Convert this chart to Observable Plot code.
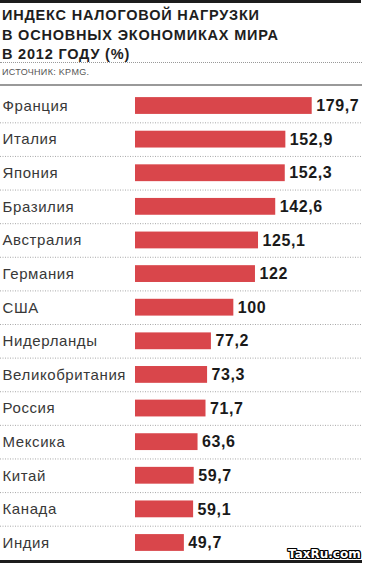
<!DOCTYPE html>
<html>
<head>
<meta charset="utf-8">
<script src="https://cdn.jsdelivr.net/npm/d3@7"></script>
<script src="https://cdn.jsdelivr.net/npm/@observablehq/plot@0.6"></script>
<style>
  html, body { margin: 0; padding: 0; background: #fff; overflow: hidden; }
  body { width: 368px; height: 565px; position: relative;
         font-family: "Liberation Sans", Arial, Helvetica, sans-serif; }
  #header { position: relative; height: 88px; }
  .topline { position: absolute; left: 0; top: 0; width: 361px; height: 3px; background: #1c1c1c; }
  .title { position: absolute; left: 2px; top: 6.3px; font-size: 14.5px; line-height: 19.3px;
           font-weight: bold; color: #1e1e1e; letter-spacing: 0.8px; white-space: nowrap; }
  .dots { position: absolute; left: 0; top: 62px; width: 362px; border-top: 1px dotted #999; }
  .source { position: absolute; left: 2px; top: 67.4px; font-size: 9px; line-height: 11px;
            color: #555; letter-spacing: 0.3px; }
  .grayline { position: absolute; left: 0; top: 84px; width: 362px; height: 2px; background: #999; }
  #chart { position: absolute; left: 0; top: 88px; }
  .bottomline { position: absolute; left: 0; top: 560px; width: 362px; height: 3px; background: #1c1c1c; }
  .wm { position: absolute; left: 288px; top: 547px; font-family: "DejaVu Sans", sans-serif;
        font-weight: bold; font-size: 12px; line-height: 14px; color: #fff;
        text-shadow: -1px -1px 0 #000, 1px -1px 0 #000, -1px 1px 0 #000, 1px 1px 0 #000,
                     0 1px 0 #000, 0 -1px 0 #000, 1px 0 0 #000, -1px 0 0 #000; }
</style>
</head>
<body>
<div id="header">
  <div class="topline"></div>
  <div class="title">ИНДЕКС НАЛОГОВОЙ НАГРУЗКИ<br>В ОСНОВНЫХ ЭКОНОМИКАХ МИРА<br>В 2012 ГОДУ (%)</div>
  <div class="dots"></div>
  <div class="source">ИСТОЧНИК: KPMG.</div>
  <div class="grayline"></div>
</div>
<div id="chart"></div>
<div class="bottomline"></div>
<div class="wm">TaxRu.com</div>
<script>
const countries = ["Франция", "Италия", "Япония", "Бразилия", "Австралия", "Германия", "США",
  "Нидерланды", "Великобритания", "Россия", "Мексика", "Китай", "Канада", "Индия"];
const values = [179.7, 152.9, 152.3, 142.6, 125.1, 122, 100, 77.2, 73.3, 71.7, 63.6, 59.7, 59.1, 49.7];
const valueLabels = ["179,7", "152,9", "152,3", "142,6", "125,1", "122", "100",
  "77,2", "73,3", "71,7", "63,6", "59,7", "59,1", "49,7"];

const data = countries.map((c, i) => ({country: c, value: values[i], label: valueLabels[i]}));

const chart = Plot.plot({
  width: 368,
  height: 472,
  marginTop: 0.7,
  marginBottom: 0.7,
  marginLeft: 0,
  marginRight: 6,
  x: {domain: [0, 180], range: [135, 312], axis: null},
  y: {domain: countries, axis: null, padding: 0, round: false},
  style: {background: "transparent", fontFamily: "'Liberation Sans', Arial, sans-serif"},
  marks: [
    Plot.ruleY(countries.slice(1), {dy: -16.8, stroke: "#a8a8a8", strokeWidth: 1, strokeDasharray: "1,1.5"}),
    Plot.barX(data, {y: "country", x: "value", fill: "#d9464b", insetTop: 8.4, insetBottom: 8.4}),
    Plot.text(data, {y: "country", text: "country", frameAnchor: "left", dx: 2, textAnchor: "start",
      fontSize: 15, fill: "#383838"}),
    Plot.text(data, {y: "country", x: "value", text: "label", dx: 4, textAnchor: "start",
      fontWeight: "bold", fontSize: 16, fill: "#1a1a1a"})
  ]
});
chart.querySelectorAll("text").forEach(t => t.style.letterSpacing = "0.6px");
document.getElementById("chart").appendChild(chart);
</script>
</body>
</html>
